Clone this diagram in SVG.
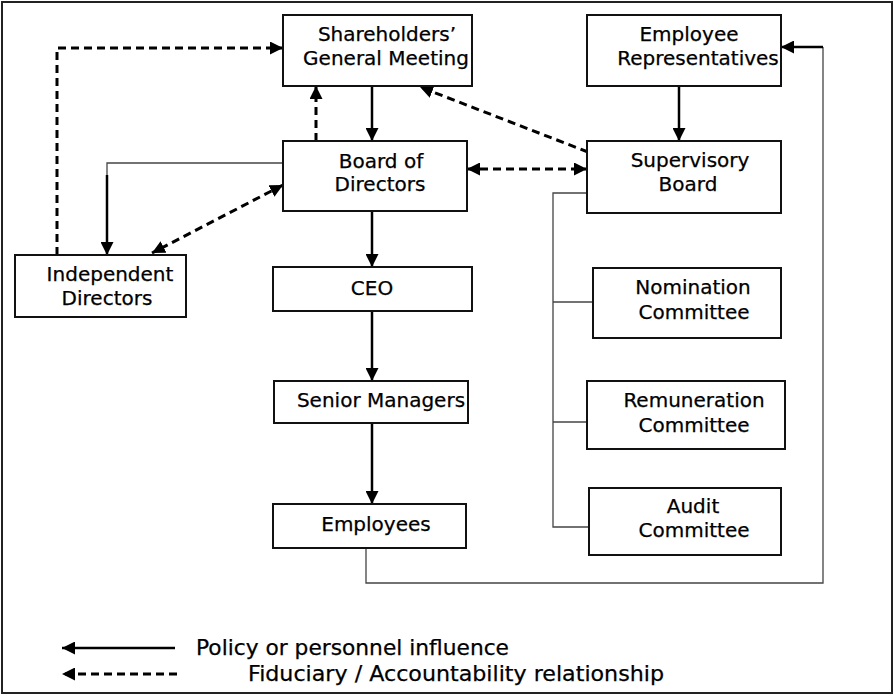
<svg xmlns="http://www.w3.org/2000/svg" width="894" height="697" viewBox="0 0 894 697">
<defs>
<marker id="ah" viewBox="0 0 13 13" markerWidth="13" markerHeight="13" refX="13" refY="6.5" orient="auto-start-reverse" markerUnits="userSpaceOnUse">
<path d="M0,0 L13,6.5 L0,13 z" fill="#000"/>
</marker>
<style>
.box{fill:#fff;stroke:#111;stroke-width:2}
.t{font-family:"DejaVu Sans","Liberation Sans",sans-serif;font-size:20px;fill:#000;stroke:#000;stroke-width:0.25;text-anchor:middle}
.lg{font-family:"DejaVu Sans","Liberation Sans",sans-serif;font-size:21px;fill:#000;stroke:#000;stroke-width:0.25}
.solid{fill:none;stroke:#000;stroke-width:2.5}
.thin{fill:none;stroke:#444;stroke-width:1.3}
.dash{fill:none;stroke:#000;stroke-width:3;stroke-dasharray:8 5}
</style>
</defs>
<rect x="2" y="2" width="890" height="691" fill="#fff" stroke="#222" stroke-width="2"/>

<g id="connectors">
<line class="solid" x1="372" y1="86" x2="372" y2="141" marker-end="url(#ah)"/>
<line class="solid" x1="372" y1="211" x2="372" y2="267" marker-end="url(#ah)"/>
<line class="solid" x1="372" y1="311" x2="372" y2="381" marker-end="url(#ah)"/>
<line class="solid" x1="372" y1="423" x2="372" y2="504" marker-end="url(#ah)"/>
<line class="solid" x1="679" y1="86" x2="679" y2="141" marker-end="url(#ah)"/>
<polyline class="thin" points="283,163 107,163 107,176"/>
<line class="solid" x1="107" y1="175" x2="107" y2="255" marker-end="url(#ah)"/>
<polyline class="dash" points="57,255 57,48 283,48" marker-end="url(#ah)"/>
<line class="dash" x1="316" y1="141" x2="316" y2="86" marker-end="url(#ah)"/>
<line class="dash" x1="467" y1="169" x2="587" y2="169" marker-start="url(#ah)" marker-end="url(#ah)"/>
<line class="dash" x1="588" y1="152" x2="420" y2="87" marker-end="url(#ah)"/>
<line class="dash" x1="283" y1="185" x2="152" y2="253" marker-start="url(#ah)" marker-end="url(#ah)"/>
<polyline class="thin" points="587,193 553,193 553,527 589,527"/>
<line class="thin" x1="553" y1="302" x2="593" y2="302"/>
<line class="thin" x1="553" y1="422" x2="587" y2="422"/>
<polyline class="thin" points="366,548 366,583 823,583 823,47"/>
<line class="solid" x1="823" y1="47" x2="781" y2="47" marker-end="url(#ah)"/>
</g>

<g id="shareholders"><rect class="box" x="283" y="15" width="189" height="71"/><text class="t" x="387" y="41">Shareholders’</text><text class="t" x="386" y="65">General Meeting</text></g>
<g id="board"><rect class="box" x="283" y="141" width="184" height="70"/><text class="t" x="381" y="168">Board of</text><text class="t" x="380" y="191">Directors</text></g>
<g id="independent"><rect class="box" x="15" y="255" width="171" height="62"/><text class="t" x="110" y="281">Independent</text><text class="t" x="107" y="305">Directors</text></g>
<g id="ceo"><rect class="box" x="273" y="267" width="199" height="44"/><text class="t" x="372" y="295">CEO</text></g>
<g id="senior"><rect class="box" x="274" y="381" width="194" height="42"/><text class="t" x="381" y="407">Senior Managers</text></g>
<g id="employees"><rect class="box" x="273" y="504" width="193" height="44"/><text class="t" x="376" y="531">Employees</text></g>
<g id="emprep"><rect class="box" x="587" y="15" width="194" height="71"/><text class="t" x="689" y="41">Employee</text><text class="t" x="698" y="65">Representatives</text></g>
<g id="supervisory"><rect class="box" x="587" y="141" width="194" height="72"/><text class="t" x="690" y="167">Supervisory</text><text class="t" x="688" y="191">Board</text></g>
<g id="nomination"><rect class="box" x="593" y="268" width="188" height="70"/><text class="t" x="693" y="294">Nomination</text><text class="t" x="694" y="319">Committee</text></g>
<g id="remuneration"><rect class="box" x="587" y="381" width="198" height="68"/><text class="t" x="694" y="407">Remuneration</text><text class="t" x="694" y="432">Committee</text></g>
<g id="audit"><rect class="box" x="589" y="488" width="192" height="67"/><text class="t" x="693" y="513">Audit</text><text class="t" x="694" y="537">Committee</text></g>

<g id="legend">
<line class="solid" x1="175" y1="648" x2="62" y2="648" marker-end="url(#ah)"/>
<line class="dash" x1="177" y1="674" x2="62" y2="674" marker-end="url(#ah)"/>
<text class="lg" x="196" y="655" textLength="313" lengthAdjust="spacingAndGlyphs">Policy or personnel influence</text>
<text class="lg" x="248" y="681" textLength="416" lengthAdjust="spacingAndGlyphs">Fiduciary / Accountability relationship</text>
</g>
</svg>
